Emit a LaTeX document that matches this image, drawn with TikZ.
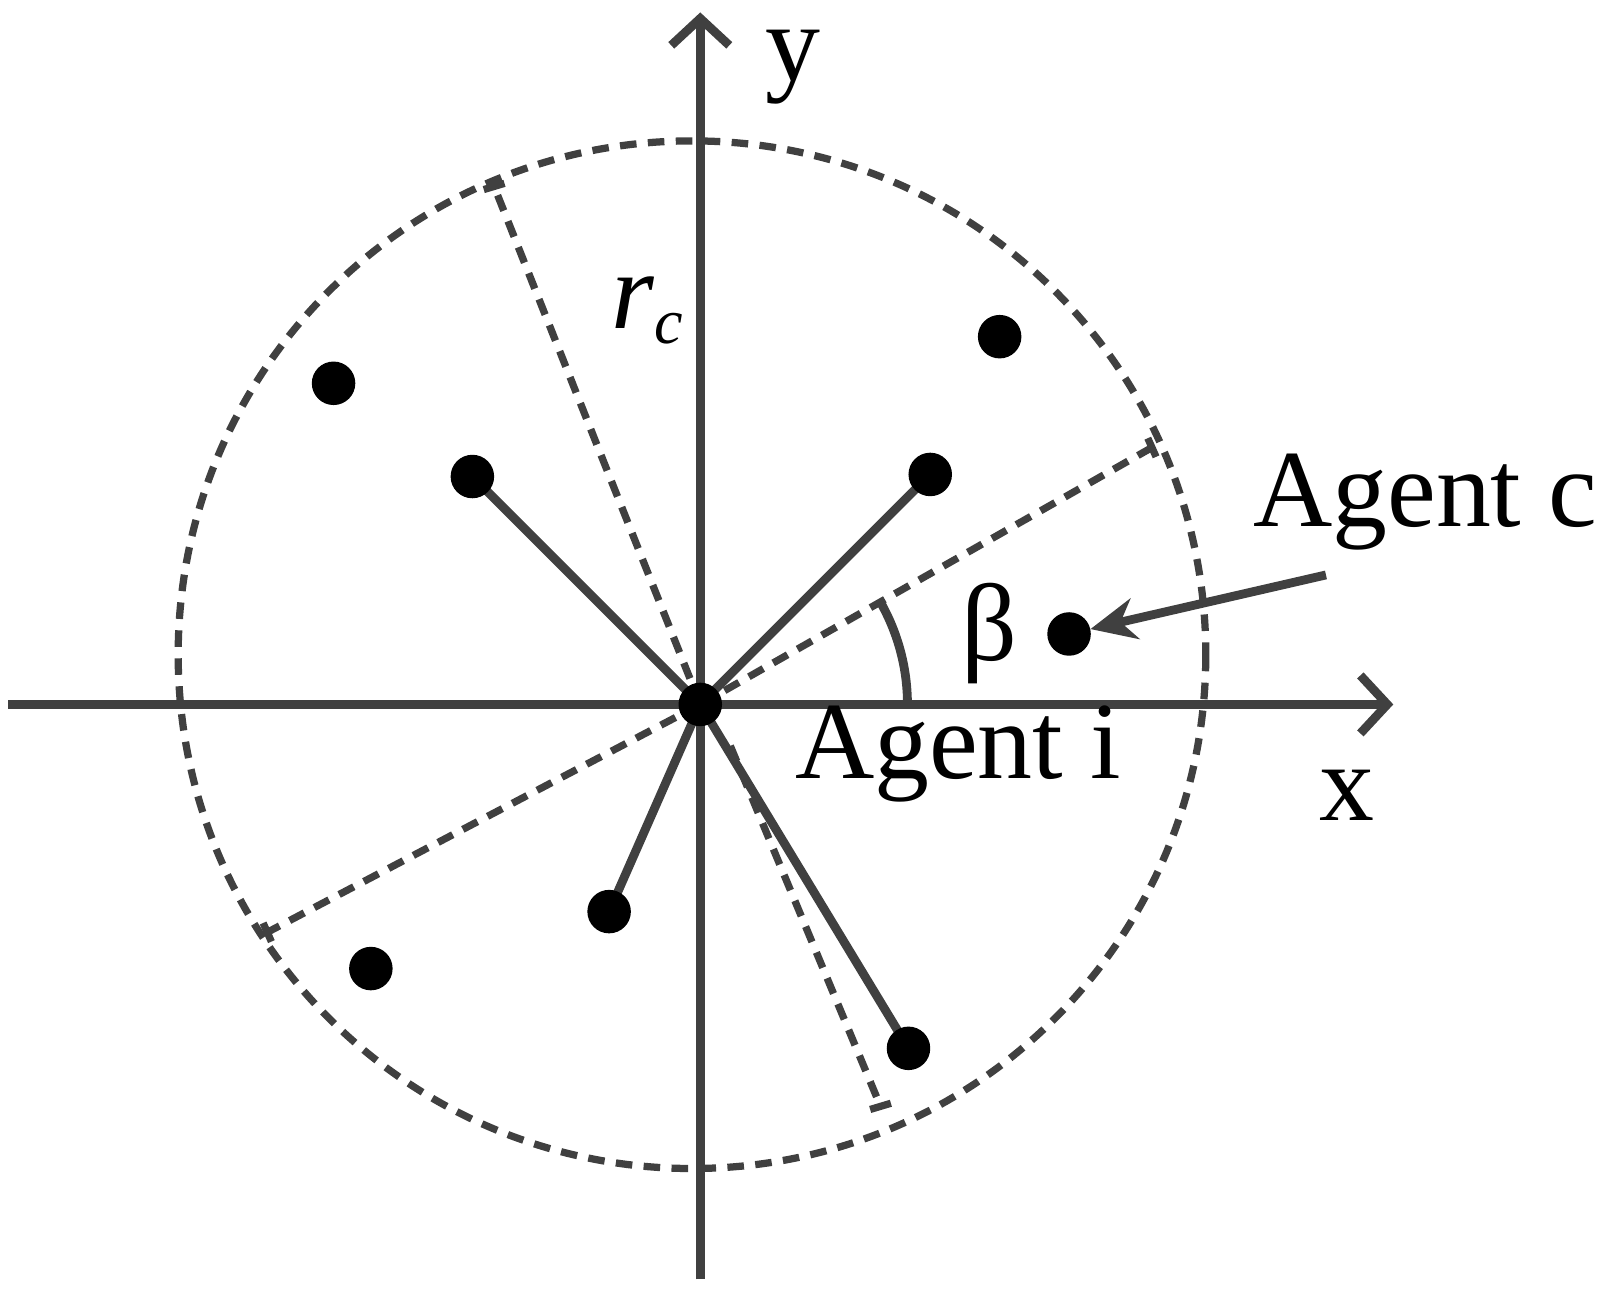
\documentclass[tikz,border=0pt]{standalone}
\usepackage{fontspec}
\setmainfont{Liberation Serif}
\usetikzlibrary{arrows.meta}
\definecolor{ln}{HTML}{404040}
\begin{document}
\begin{tikzpicture}[x=1pt,y=-1pt,
  axis/.style={draw=ln,line width=8.5pt,-{Straight Barb[length=26pt,width=56pt,line width=8.5pt]}},
  solidl/.style={draw=ln,line width=8.5pt},
  dashl/.style={draw=ln,line width=7pt,dash pattern=on 16pt off 11pt},
  dot/.style={circle,fill=black,inner sep=0pt,minimum size=42pt},
  lab/.style={font=\fontsize{106}{106}\selectfont}]
\useasboundingbox (0,0) rectangle (1560,1262);
\draw[dashl] (668,632) circle (496);
\draw[axis] (676,1235) -- (676,12);
\draw[axis] (8,680) -- (1345,680);
\coordinate (Oc) at (676,680);
\coordinate (p2) at (456,460);
\coordinate (p4) at (898,458);
\coordinate (p6) at (588,880);
\coordinate (p8) at (877,1012);
\foreach \n in {p2,p4,p6,p8} \draw[solidl] (Oc) -- (\n);
\coordinate (d1) at (477,180);
\coordinate (d2) at (1112,432);
\coordinate (d3) at (258,900);
\coordinate (d4) at (850,1068);
\foreach \n in {d1,d2,d3} \draw[dashl] (Oc) -- (\n);
\draw[dashl] (705,720) -- (d4);
\draw[draw=ln,line width=7pt] (d1) ++(-10,3) -- ++(20,-6);
\draw[draw=ln,line width=7pt] (d2) ++(-4,-9) -- ++(8,18);
\draw[draw=ln,line width=7pt] (d3) ++(-4,-9) -- ++(8,18);
\draw[draw=ln,line width=7pt] (d4) ++(-10,3) -- ++(20,-6);
\draw[solidl] (876,680) arc[start angle=0,end angle=-29,radius=200];
\node[dot] (O) at (Oc) {};
\node[dot] (a1) at (322,370) {};
\node[dot] (a2) at (p2) {};
\node[dot] (a3) at (965,325) {};
\node[dot] (a4) at (p4) {};
\node[dot] (c) at (1032,612) {};
\node[dot] (a6) at (p6) {};
\node[dot] (a7) at (358,935) {};
\node[dot] (a8) at (p8) {};
\coordinate (ct) at (1280,555);
\draw[draw=ln,line width=8.5pt,-{Stealth[length=44pt,width=40pt]}] (ct) -- (c);
\node[lab] (y) at (765,65) {y};
\node[lab] (x) at (1300,768) {x};
\node[lab] (rc) at (625,300) {\itshape r\raisebox{-0.3ex}{\fontsize{62}{62}\selectfont c}};
\node[lab] (ac) at (1376,485) {Agent c};
\node[lab] (ai) at (925,728) {Agent i};
\node[lab] (b) at (955,612) {β};
\end{tikzpicture}
\end{document}
